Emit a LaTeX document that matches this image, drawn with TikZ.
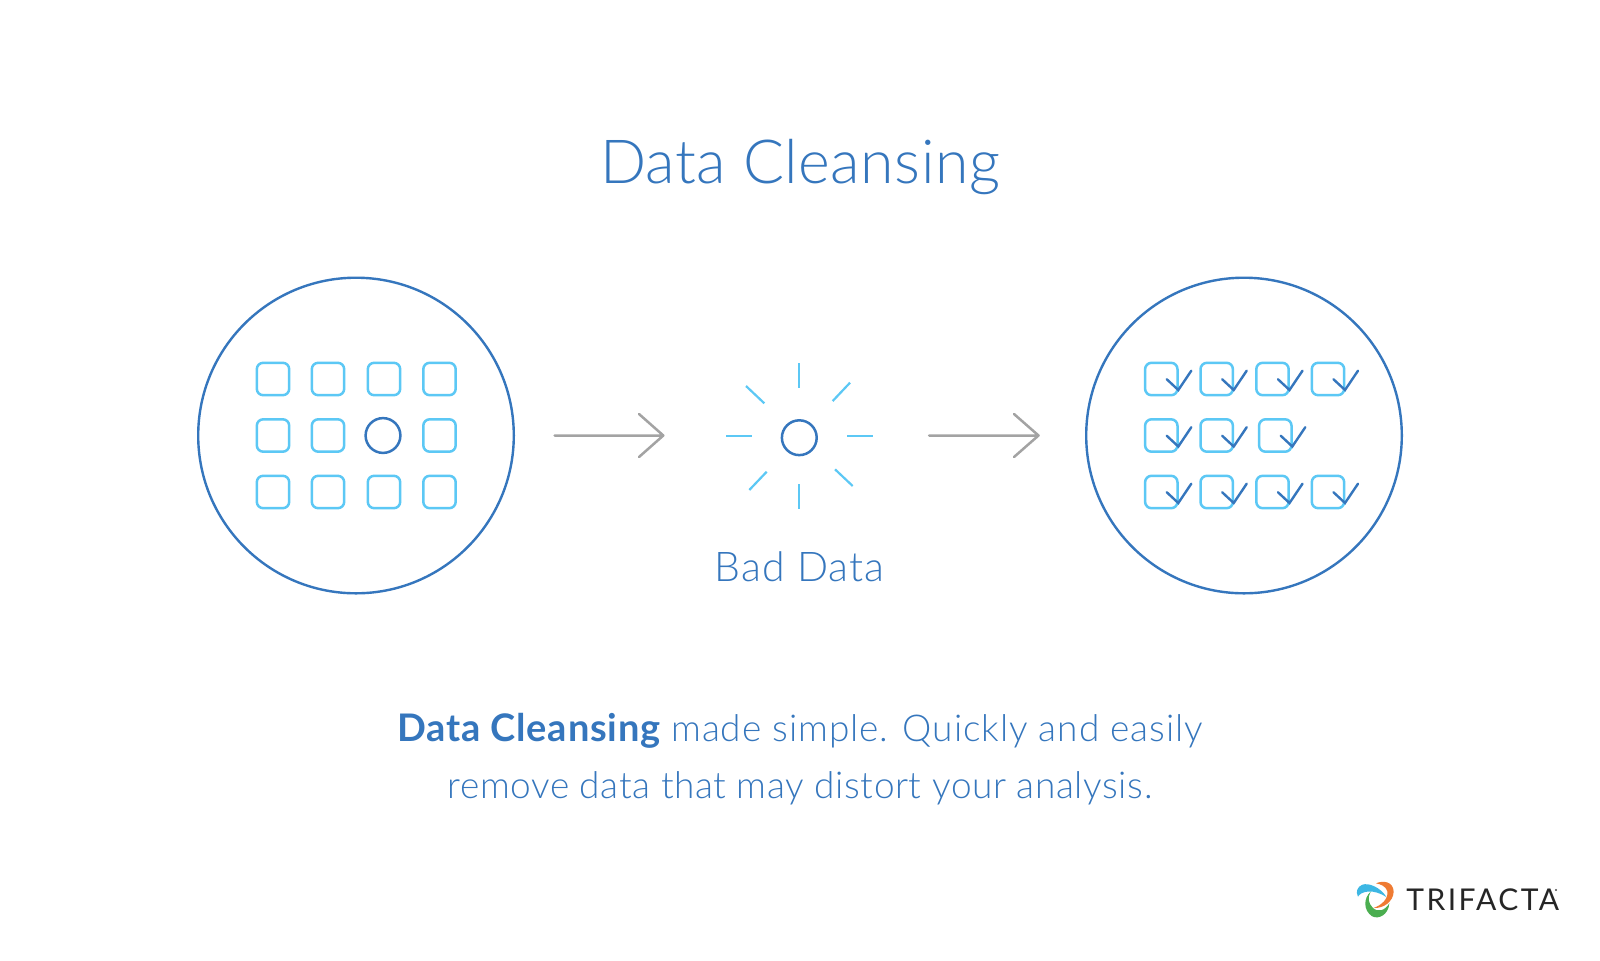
\documentclass[tikz,border=0pt]{standalone}
\usepackage{fontspec}
\setmainfont{Lato}[UprightFont=* Light,BoldFont=* Bold]
\newfontfamily\titlefont{Lato Light}[LetterSpace=0.8]
\newfontfamily\bodyfont{Lato Light}[LetterSpace=1.6]
\newfontfamily\bodyfontb{Lato Light}[LetterSpace=2.5]
\newfontfamily\strongfont{Lato Bold}[LetterSpace=2.1]
\newfontfamily\badfont{Lato Light}[LetterSpace=2.8]
\newfontfamily\logofont{Lato}[LetterSpace=8]
\usetikzlibrary{calc}
\definecolor{bluemain}{HTML}{3576BD}
\definecolor{cyanbox}{HTML}{5CC8F5}
\definecolor{greyarrow}{HTML}{A3A3A3}
\definecolor{logoblue}{HTML}{3DB7E4}
\definecolor{logoorange}{HTML}{EF7B33}
\definecolor{logogreen}{HTML}{4BAE50}
\tikzset{
 px/.style={x=0.5pt,y=-0.5pt},
 bigcircle/.style={circle,draw=bluemain,line width=1.2pt,minimum size=157.8pt,inner sep=0pt},
 cell/.style={rectangle,rounded corners=3.2pt,draw=cyanbox,line width=1.25pt,minimum size=16.2pt,inner sep=0pt},
 badcell/.style={circle,draw=bluemain,line width=1.25pt,minimum size=17.4pt,inner sep=0pt},
 ray/.style={draw=cyanbox,line width=1.1pt},
 tick/.style={draw=bluemain,line width=1.2pt,line cap=round,line join=miter},
 flow/.style={draw=greyarrow,line width=1.25pt,line cap=round,line join=round},
 bluetext/.style={text=bluemain,inner sep=0pt,anchor=base},
}
\newcommand{\tickat}[2]{%
 \draw[tick] ($(#1,#2)+(5.5,0.3)$) -- ($(#1,#2)+(17,11)$) -- ($(#1,#2)+(30,-8.3)$);}
\begin{document}
\begin{tikzpicture}[px]
\useasboundingbox[fill=white] (0,0) rectangle (1600,960);
\node[bluetext,font=\titlefont\fontsize{30.4}{36}\selectfont] (title) at (800,183) {Data Cleansing};
\node[bigcircle] (left) at (356,435.5) {};
\node[bigcircle] (right) at (1244,435.5) {};
% left grid
\foreach \n/\x/\y in {a/273/379,b/328/379,c/384/379,d/439.5/379,e/273/435.5,f/328/435.5,h/439.5/435.5,i/273/492,j/328/492,k/384/492,l/439.5/492}
  \node[cell] (L\n) at (\x,\y) {};
\node[badcell] (Lg) at (383,435.5) {};
% right grid
\foreach \n/\x/\y in {a/1161.3/379,b/1216.7/379,c/1272.5/379,d/1328/379,e/1161.3/435.5,f/1216.7/435.5,g/1275.3/435.5,i/1161.3/492,j/1216.7/492,k/1272.5/492,l/1328/492}{
  \node[cell] (R\n) at (\x,\y) {};
  \tickat{\x}{\y}
}
% arrows
\coordinate (a1s) at (554.7,435.5); \coordinate (a1e) at (663.3,435.5);
\coordinate (a1u) at (639,414); \coordinate (a1d) at (639,457);
\draw[flow] (a1s) -- (a1e) (a1u) -- (a1e) -- (a1d);
\coordinate (a2s) at (929,435.5); \coordinate (a2e) at (1038.5,435.5);
\coordinate (a2u) at (1014,414); \coordinate (a2d) at (1014,457);
\draw[flow] (a2s) -- (a2e) (a2u) -- (a2e) -- (a2d);
% sun
\node[badcell] (sun) at (799.3,437.7) {};
\draw[ray] (799.3,363.3) -- (799.3,388.3);
\draw[ray] (799.3,484.3) -- (799.3,509.3);
\draw[ray] (726,436.3) -- (751.7,436.3);
\draw[ray] (847.3,436.3) -- (872.7,436.3);
\draw[ray] (832.7,401) -- (850,382.7);
\draw[ray] (764.3,403.3) -- (746,386);
\draw[ray] (766.7,471.7) -- (749.3,490);
\draw[ray] (835,469.3) -- (852.7,486);
\node[bluetext,font=\badfont\fontsize{20.5}{24}\selectfont] (bad) at (799.5,581) {Bad Data};
\node[bluetext,font=\bodyfontb\fontsize{18.5}{22}\selectfont] (l1) at (800,741) {{\strongfont\fontsize{19}{22}\selectfont Data Cleansing} made simple. Quickly and easily};
\node[bluetext,font=\bodyfont\fontsize{18.5}{22}\selectfont] (l2) at (800,798) {remove data that may distort your analysis.};
% logo
\begin{scope}[shift={(1330,860)},scale=1/3]
 \fill[logoblue] (170,112) .. controls (150,80) and (115,68) .. (97,74) .. controls (82,80) and (76,95) .. (84,110) .. controls (92,94) and (130,84) .. (170,112) -- cycle;
 \fill[logoorange] (138,70) .. controls (160,60) and (190,65) .. (191,95) .. controls (190,125) and (160,146) .. (130,144) .. controls (155,136) and (176,115) .. (172,94) .. controls (168,78) and (150,72) .. (138,70) -- cycle;
 \fill[logogreen] (122,95) .. controls (100,115) and (100,150) .. (125,168) .. controls (145,180) and (175,165) .. (178,130) .. controls (165,152) and (143,158) .. (128,143) .. controls (115,130) and (112,112) .. (122,95) -- cycle;
\end{scope}
\node[inner sep=0pt,anchor=base west,font=\logofont\fontsize{15}{18}\selectfont,text=black!85] (logo) at (1406,910) {TRIFACTA};
\fill[black!70] (1556,890) circle (1.2);
\end{tikzpicture}
\end{document}
